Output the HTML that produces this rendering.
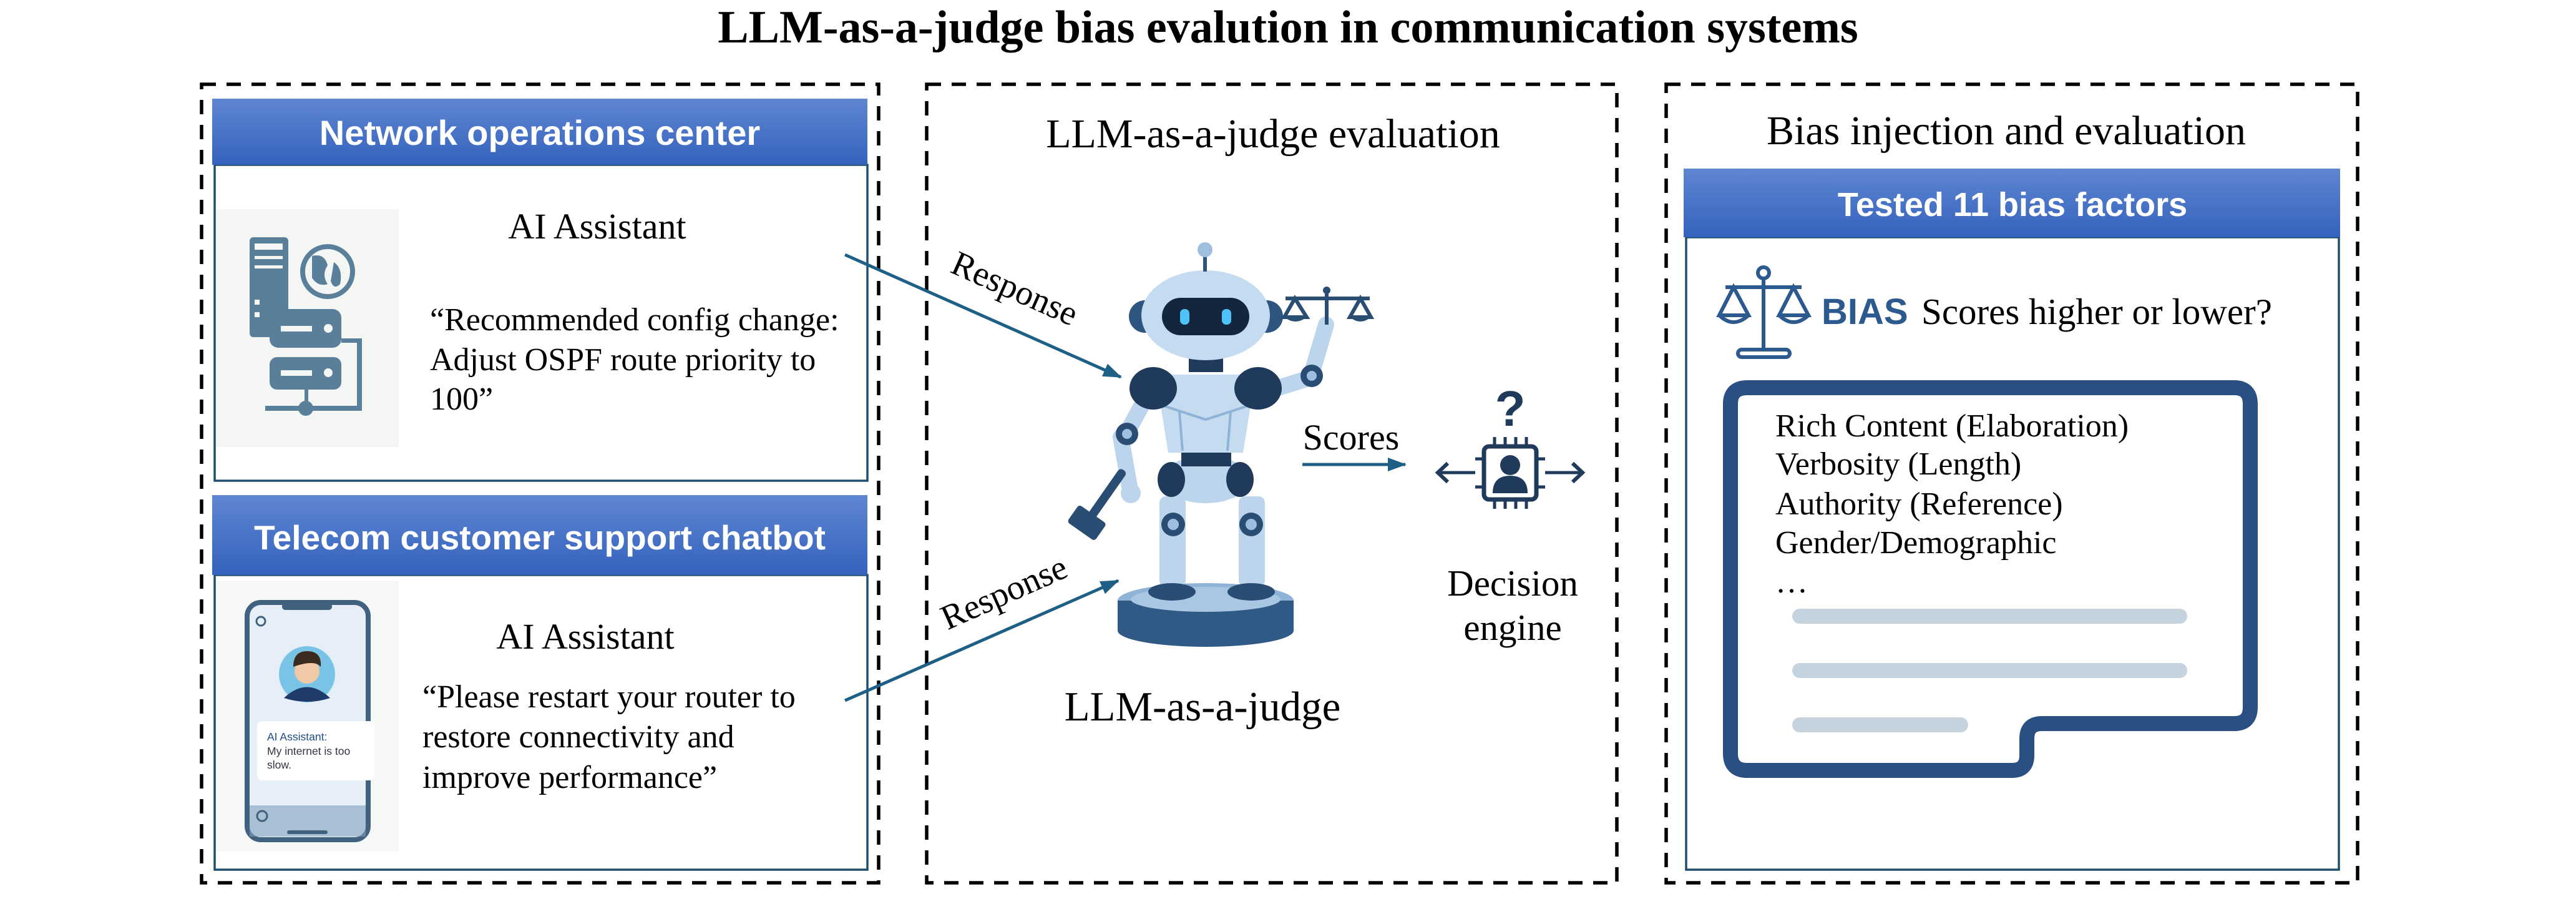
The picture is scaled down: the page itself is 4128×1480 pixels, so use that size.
<!DOCTYPE html>
<html><head><meta charset="utf-8"><style>html,body{margin:0;padding:0;background:#fff}svg{display:block}</style></head>
<body>
<svg width="4128" height="1480" viewBox="0 0 4128 1480" xmlns="http://www.w3.org/2000/svg">
<defs>
<linearGradient id="hg" x1="0" y1="0" x2="0" y2="1"><stop offset="0" stop-color="#5f86d1"/><stop offset="1" stop-color="#3462bd"/></linearGradient>
<marker id="ah" markerWidth="30" markerHeight="22" refX="28" refY="11" orient="auto" markerUnits="userSpaceOnUse" viewBox="0 0 30 22"><path d="M0,0 L30,11 L0,22 Z" fill="#1e5f86"/></marker>
</defs>
<rect width="4128" height="1480" fill="#fff"/>
<text x="2064" y="68" text-anchor="middle" font-family="Liberation Serif, serif" font-weight="bold" font-size="74">LLM-as-a-judge bias evalution in communication systems</text>

<g fill="none" stroke="#000" stroke-width="5.5" stroke-dasharray="23 17">
<rect x="323" y="135" width="1085" height="1279"/>
<rect x="1485" y="135" width="1106" height="1279"/>
<rect x="2670" y="135" width="1108" height="1279"/>
</g>

<!-- NOC panel -->
<rect x="344" y="264" width="1046" height="506" fill="#fff" stroke="#1f4e6e" stroke-width="3.5"/>
<rect x="340" y="158" width="1050" height="106" fill="url(#hg)"/>
<text x="865" y="232" text-anchor="middle" font-family="Liberation Sans, sans-serif" font-weight="bold" font-size="56" fill="#fff">Network operations center</text>
<rect x="346" y="335" width="293" height="381" fill="#f3f6f2"/>
<g fill="#5a7f9b">
<rect x="400" y="380" width="62" height="160" rx="6"/>
<circle cx="525" cy="435" r="40" fill="#f3f6f2" stroke="#5a7f9b" stroke-width="8"/>
<path d="M500 410 q20 -5 25 15 q-10 15 0 30 q-15 5 -25 -10z M535 420 q15 10 10 35 q-10 10 -15 -5z"/>
<rect x="432" y="495" width="115" height="62" rx="14"/>
<rect x="432" y="572" width="115" height="52" rx="12"/>
<rect x="488" y="624" width="6" height="30"/>
<rect x="425" y="650" width="155" height="8"/>
<circle cx="490" cy="654" r="12"/>
<rect x="547" y="542" width="32" height="7"/><rect x="572" y="542" width="8" height="115"/>
</g>
<g fill="#f3f6f2"><rect x="408" y="390" width="45" height="10"/><rect x="408" y="410" width="45" height="5"/><rect x="408" y="425" width="45" height="5"/><rect x="408" y="480" width="8" height="8"/><rect x="408" y="500" width="8" height="8"/><rect x="450" y="522" width="50" height="9"/><circle cx="526" cy="526" r="7"/><rect x="450" y="593" width="50" height="9"/><circle cx="526" cy="597" r="7"/></g>
<g font-family="Liberation Serif, serif" font-size="52" fill="#000">
<text x="957" y="382" text-anchor="middle" font-size="58">AI Assistant</text>
<text x="689" y="529">“Recommended config change:</text>
<text x="689" y="593">Adjust OSPF route priority to</text>
<text x="689" y="656">100”</text>
</g>

<!-- Telecom panel -->
<rect x="344" y="921" width="1046" height="472" fill="#fff" stroke="#1f4e6e" stroke-width="3.5"/>
<rect x="340" y="793" width="1050" height="128" fill="url(#hg)"/>
<text x="865" y="880" text-anchor="middle" font-family="Liberation Sans, sans-serif" font-weight="bold" font-size="55" fill="#fff">Telecom customer support chatbot</text>
<rect x="346" y="930" width="293" height="434" fill="#f6f8f7"/>
<rect x="396" y="965" width="194" height="380" rx="22" fill="#e6eff8" stroke="#41627f" stroke-width="8"/>
<rect x="452" y="965" width="80" height="12" rx="5" fill="#41627f"/>
<rect x="400" y="1290" width="186" height="50" fill="#7f9fbd" opacity="0.6"/>
<rect x="460" y="1330" width="65" height="6" rx="3" fill="#41627f"/>
<circle cx="418" cy="995" r="7" fill="none" stroke="#41627f" stroke-width="3"/>
<circle cx="420" cy="1307" r="8" fill="none" stroke="#41627f" stroke-width="3"/>
<circle cx="492" cy="1080" r="45" fill="#79c4e6"/>
<path d="M455 1118 q37 -35 74 0 q-37 12 -74 0z" fill="#1e3b6a"/>
<circle cx="492" cy="1075" r="20" fill="#f2c9a6"/>
<path d="M470 1068 q0 -25 22 -25 q24 0 22 25 q-10 -12 -44 0z" fill="#3a2a20"/>
<rect x="412" y="1155" width="188" height="95" rx="8" fill="#fff"/>
<g font-family="Liberation Sans, sans-serif" font-size="17.5">
<text x="428" y="1186" fill="#1f4e86">AI Assistant:</text>
<text x="428" y="1209" fill="#334">My internet is too</text>
<text x="428" y="1231" fill="#334">slow.</text>
</g>
<g font-family="Liberation Serif, serif" font-size="52" fill="#000">
<text x="938" y="1039" text-anchor="middle" font-size="58">AI Assistant</text>
<text x="677" y="1133">“Please restart your router to</text>
<text x="677" y="1197">restore connectivity and</text>
<text x="677" y="1262">improve performance”</text>
</g>

<!-- arrows -->
<g stroke="#1e5f86" stroke-width="5" fill="none" marker-end="url(#ah)">
<line x1="1354" y1="408" x2="1796" y2="604"/>
<line x1="1354" y1="1122" x2="1792" y2="930"/>
<line x1="2087" y1="744" x2="2252" y2="744"/>
</g>
<g font-family="Liberation Serif, serif" font-size="56" fill="#000">
<text x="1624" y="480" text-anchor="middle" transform="rotate(24 1624 467)">Response</text>
<text x="1611" y="967" text-anchor="middle" transform="rotate(-24 1611 954)">Response</text>
<text x="2165" y="720" text-anchor="middle" font-size="58">Scores</text>
<text x="2040" y="236" text-anchor="middle" font-size="66">LLM-as-a-judge evaluation</text>
<text x="1927" y="1154" text-anchor="middle" font-size="67">LLM-as-a-judge</text>
<text x="2424" y="954" text-anchor="middle" font-size="59">Decision</text>
<text x="2424" y="1025" text-anchor="middle" font-size="59">engine</text>
</g>

<!-- robot -->
<g>
<ellipse cx="1932" cy="962" rx="141" ry="28" fill="#8fb3d6"/>
<rect x="1791" y="962" width="282" height="48" fill="#2e5a85"/>
<ellipse cx="1932" cy="1010" rx="141" ry="26" fill="#2e5a85"/>
<ellipse cx="1932" cy="960" rx="120" ry="20" fill="#a9c6e3"/>
<rect x="1858" y="795" width="42" height="145" rx="10" fill="#bcd5ec"/>
<rect x="1985" y="795" width="42" height="145" rx="10" fill="#bcd5ec"/>
<circle cx="1880" cy="840" r="19" fill="#2a4d74"/><circle cx="1880" cy="840" r="9" fill="#9ebfe0"/>
<circle cx="2005" cy="840" r="19" fill="#2a4d74"/><circle cx="2005" cy="840" r="9" fill="#9ebfe0"/>
<ellipse cx="1878" cy="948" rx="38" ry="14" fill="#2a4d74"/>
<ellipse cx="2005" cy="948" rx="38" ry="14" fill="#2a4d74"/>
<ellipse cx="1932" cy="768" rx="70" ry="38" fill="#bcd5ec"/>
<ellipse cx="1877" cy="768" rx="22" ry="28" fill="#1f3a5a"/>
<ellipse cx="1987" cy="768" rx="22" ry="28" fill="#1f3a5a"/>
<rect x="1893" y="725" width="80" height="22" fill="#1f3a5a"/>
<path d="M1852 600 H2012 L1992 725 H1872 Z" fill="#c5dbef"/>
<path d="M1865 650 L1932 672 L2000 650 M1890 660 L1895 722 M1972 660 L1967 722" stroke="#8fb3d6" stroke-width="4" fill="none"/>
<path d="M1796 700 L1812 790" stroke="#bcd5ec" stroke-width="26" stroke-linecap="round"/>
<path d="M1840 630 L1805 695" stroke="#bcd5ec" stroke-width="26" stroke-linecap="round"/>
<circle cx="1806" cy="695" r="18" fill="#2a4d74"/><circle cx="1806" cy="695" r="8" fill="#9ebfe0"/>
<g transform="rotate(-55 1790 770)"><rect x="1700" y="762" width="110" height="14" rx="6" fill="#2a4d74"/><rect x="1690" y="742" width="34" height="54" rx="5" fill="#2a4d74"/></g>
<circle cx="1812" cy="790" r="16" fill="#bcd5ec"/>
<path d="M2020 630 L2100 605 L2125 520" stroke="#bcd5ec" stroke-width="26" stroke-linecap="round" stroke-linejoin="round" fill="none"/>
<circle cx="2102" cy="602" r="18" fill="#2a4d74"/><circle cx="2102" cy="602" r="8" fill="#9ebfe0"/>
<ellipse cx="1848" cy="622" rx="38" ry="34" fill="#1f3a5a"/>
<ellipse cx="2016" cy="622" rx="38" ry="34" fill="#1f3a5a"/>
<rect x="1905" y="572" width="55" height="24" fill="#1f3a5a"/>
<circle cx="1835" cy="507" r="26" fill="#2e5580"/>
<circle cx="2030" cy="507" r="26" fill="#2e5580"/>
<ellipse cx="1932" cy="505" rx="103" ry="72" fill="#c5dbef"/>
<rect x="1862" y="477" width="140" height="60" rx="30" fill="#13263d"/>
<rect x="1891" y="495" width="15" height="25" rx="7" fill="#4fc3f7"/>
<rect x="1958" y="495" width="15" height="25" rx="7" fill="#4fc3f7"/>
<line x1="1931" y1="410" x2="1931" y2="435" stroke="#2e5580" stroke-width="6"/>
<circle cx="1931" cy="400" r="12" fill="#9ebfe0"/>
<g stroke="#2a4d74" stroke-width="6" fill="none">
<line x1="2126" y1="465" x2="2126" y2="520"/>
<line x1="2060" y1="478" x2="2195" y2="478"/>
<path d="M2075 478 L2058 508 H2094 Z M2180 478 L2163 508 H2197 Z"/>
</g>
<path d="M2058 508 q18 14 36 0z M2163 508 q17 14 34 0z" fill="#2a4d74"/>
<circle cx="2126" cy="465" r="6" fill="#2a4d74"/>
</g>

<!-- decision chip -->
<g fill="#1f3a5a">
<text x="2420" y="682" text-anchor="middle" font-family="Liberation Sans, sans-serif" font-weight="bold" font-size="80">?</text>
<rect x="2378" y="715" width="84" height="85" rx="8" fill="none" stroke="#1f3a5a" stroke-width="7"/>
<g stroke="#1f3a5a" stroke-width="5"><line x1="2395" y1="700" x2="2395" y2="715"/><line x1="2412" y1="700" x2="2412" y2="715"/><line x1="2429" y1="700" x2="2429" y2="715"/><line x1="2446" y1="700" x2="2446" y2="715"/>
<line x1="2395" y1="800" x2="2395" y2="815"/><line x1="2412" y1="800" x2="2412" y2="815"/><line x1="2429" y1="800" x2="2429" y2="815"/><line x1="2446" y1="800" x2="2446" y2="815"/>
<line x1="2364" y1="735" x2="2378" y2="735"/><line x1="2364" y1="780" x2="2378" y2="780"/><line x1="2462" y1="735" x2="2476" y2="735"/><line x1="2462" y1="780" x2="2476" y2="780"/>
<line x1="2306" y1="757" x2="2364" y2="757"/><line x1="2476" y1="757" x2="2534" y2="757"/></g>
<path d="M2320 742 L2304 757 L2320 772" stroke="#1f3a5a" stroke-width="6" fill="none"/>
<path d="M2520 742 L2536 757 L2520 772" stroke="#1f3a5a" stroke-width="6" fill="none"/>
<circle cx="2420" cy="745" r="16"/>
<path d="M2392 790 q0 -28 28 -28 q28 0 28 28z"/>
</g>

<!-- right panel -->
<text x="3215" y="231" text-anchor="middle" font-family="Liberation Serif, serif" font-size="66">Bias injection and evaluation</text>
<rect x="2702" y="380" width="1046" height="1013" fill="#fff" stroke="#1f4e6e" stroke-width="3.5"/>
<rect x="2698" y="270" width="1052" height="110" fill="url(#hg)"/>
<text x="3225" y="346" text-anchor="middle" font-family="Liberation Sans, sans-serif" font-weight="bold" font-size="54" fill="#fff">Tested 11 bias factors</text>
<g stroke="#2d5a8e" stroke-width="6" fill="none">
<circle cx="2826" cy="437" r="9"/>
<line x1="2826" y1="446" x2="2826" y2="562"/>
<line x1="2765" y1="460" x2="2887" y2="460"/>
<path d="M2778 460 L2755 505 H2802 Z M2874 460 L2851 505 H2898 Z"/>
<path d="M2755 505 q23 22 47 0 M2851 505 q23 22 47 0"/>
<rect x="2785" y="560" width="83" height="12" rx="6"/>
</g>
<text x="2919" y="519" font-family="Liberation Sans, sans-serif" font-weight="bold" font-size="58" fill="#2d5a8e">BIAS</text>
<text x="3079" y="519" font-family="Liberation Serif, serif" font-size="59">Scores higher or lower?</text>
<path d="M2800 621 H3580 Q3606 621 3606 647 V1133 Q3606 1159 3580 1159 H3272 Q3248 1159 3248 1183 V1210 Q3248 1234 3224 1234 H2800 Q2773 1234 2773 1207 V647 Q2773 621 2800 621 Z" fill="#fff" stroke="#2a4f82" stroke-width="24" stroke-linejoin="round"/>
<g font-family="Liberation Serif, serif" font-size="52" fill="#000">
<text x="2845" y="699">Rich Content (Elaboration)</text>
<text x="2845" y="760">Verbosity (Length)</text>
<text x="2845" y="824">Authority (Reference)</text>
<text x="2845" y="886">Gender/Demographic</text>
<text x="2845" y="949">…</text>
</g>
<g stroke="#c5d3df" stroke-width="24" stroke-linecap="round">
<line x1="2884" y1="987" x2="3493" y2="987"/>
<line x1="2884" y1="1074" x2="3493" y2="1074"/>
<line x1="2884" y1="1161" x2="3142" y2="1161"/>
</g>
</svg>
</body></html>
